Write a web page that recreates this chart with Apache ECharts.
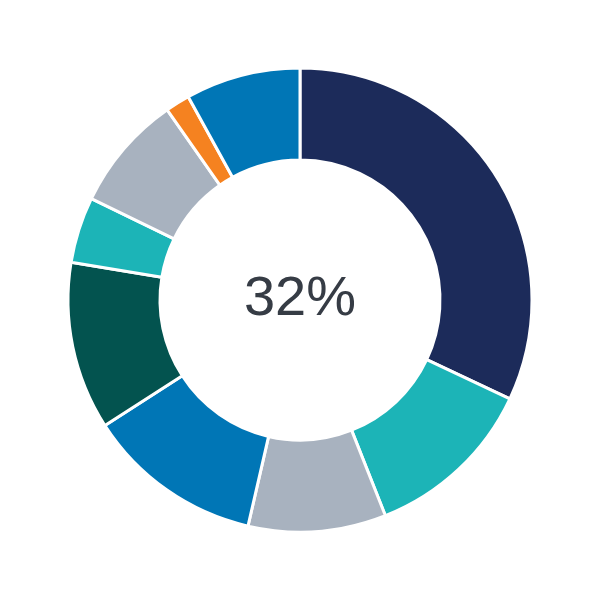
<!DOCTYPE html>
<html>
<head>
<meta charset="utf-8">
<script src="https://cdn.jsdelivr.net/npm/echarts@6/dist/echarts.min.js"></script>
<style>html,body{margin:0;padding:0;background:#fff}#c{width:600px;height:600px}</style>
</head>
<body>
<div id="c"></div>
<script>
var categories = ['A', 'B', 'C', 'D', 'E', 'F', 'G', 'H', 'I'];
var values = [32, 12, 9.6, 12.3, 11.7, 4.6, 8.1, 1.7, 8.0];
var colors = ['#1c2b5a', '#1cb4b7', '#a8b2bf', '#0076b6', '#03534f', '#1cb4b7', '#a8b2bf', '#f58220', '#0076b6'];
var centerText = '32%';

var chart = echarts.init(document.getElementById('c'), null, {renderer: 'canvas'});
chart.setOption({
  animation: false,
  backgroundColor: '#ffffff',
  graphic: [{
    type: 'text',
    left: 'center',
    top: 272,
    style: {
      text: centerText,
      font: '56px "Liberation Sans", Arial, sans-serif',
      fill: '#363c45'
    }
  }],
  series: [{
    type: 'pie',
    center: [300, 300],
    radius: [140, 232],
    startAngle: 90,
    clockwise: true,
    label: {show: false},
    labelLine: {show: false},
    emphasis: {disabled: true},
    itemStyle: {borderColor: '#ffffff', borderWidth: 3},
    data: categories.map(function (c, i) {
      return {name: c, value: values[i], itemStyle: {color: colors[i]}};
    })
  }]
});
</script>
</body>
</html>
